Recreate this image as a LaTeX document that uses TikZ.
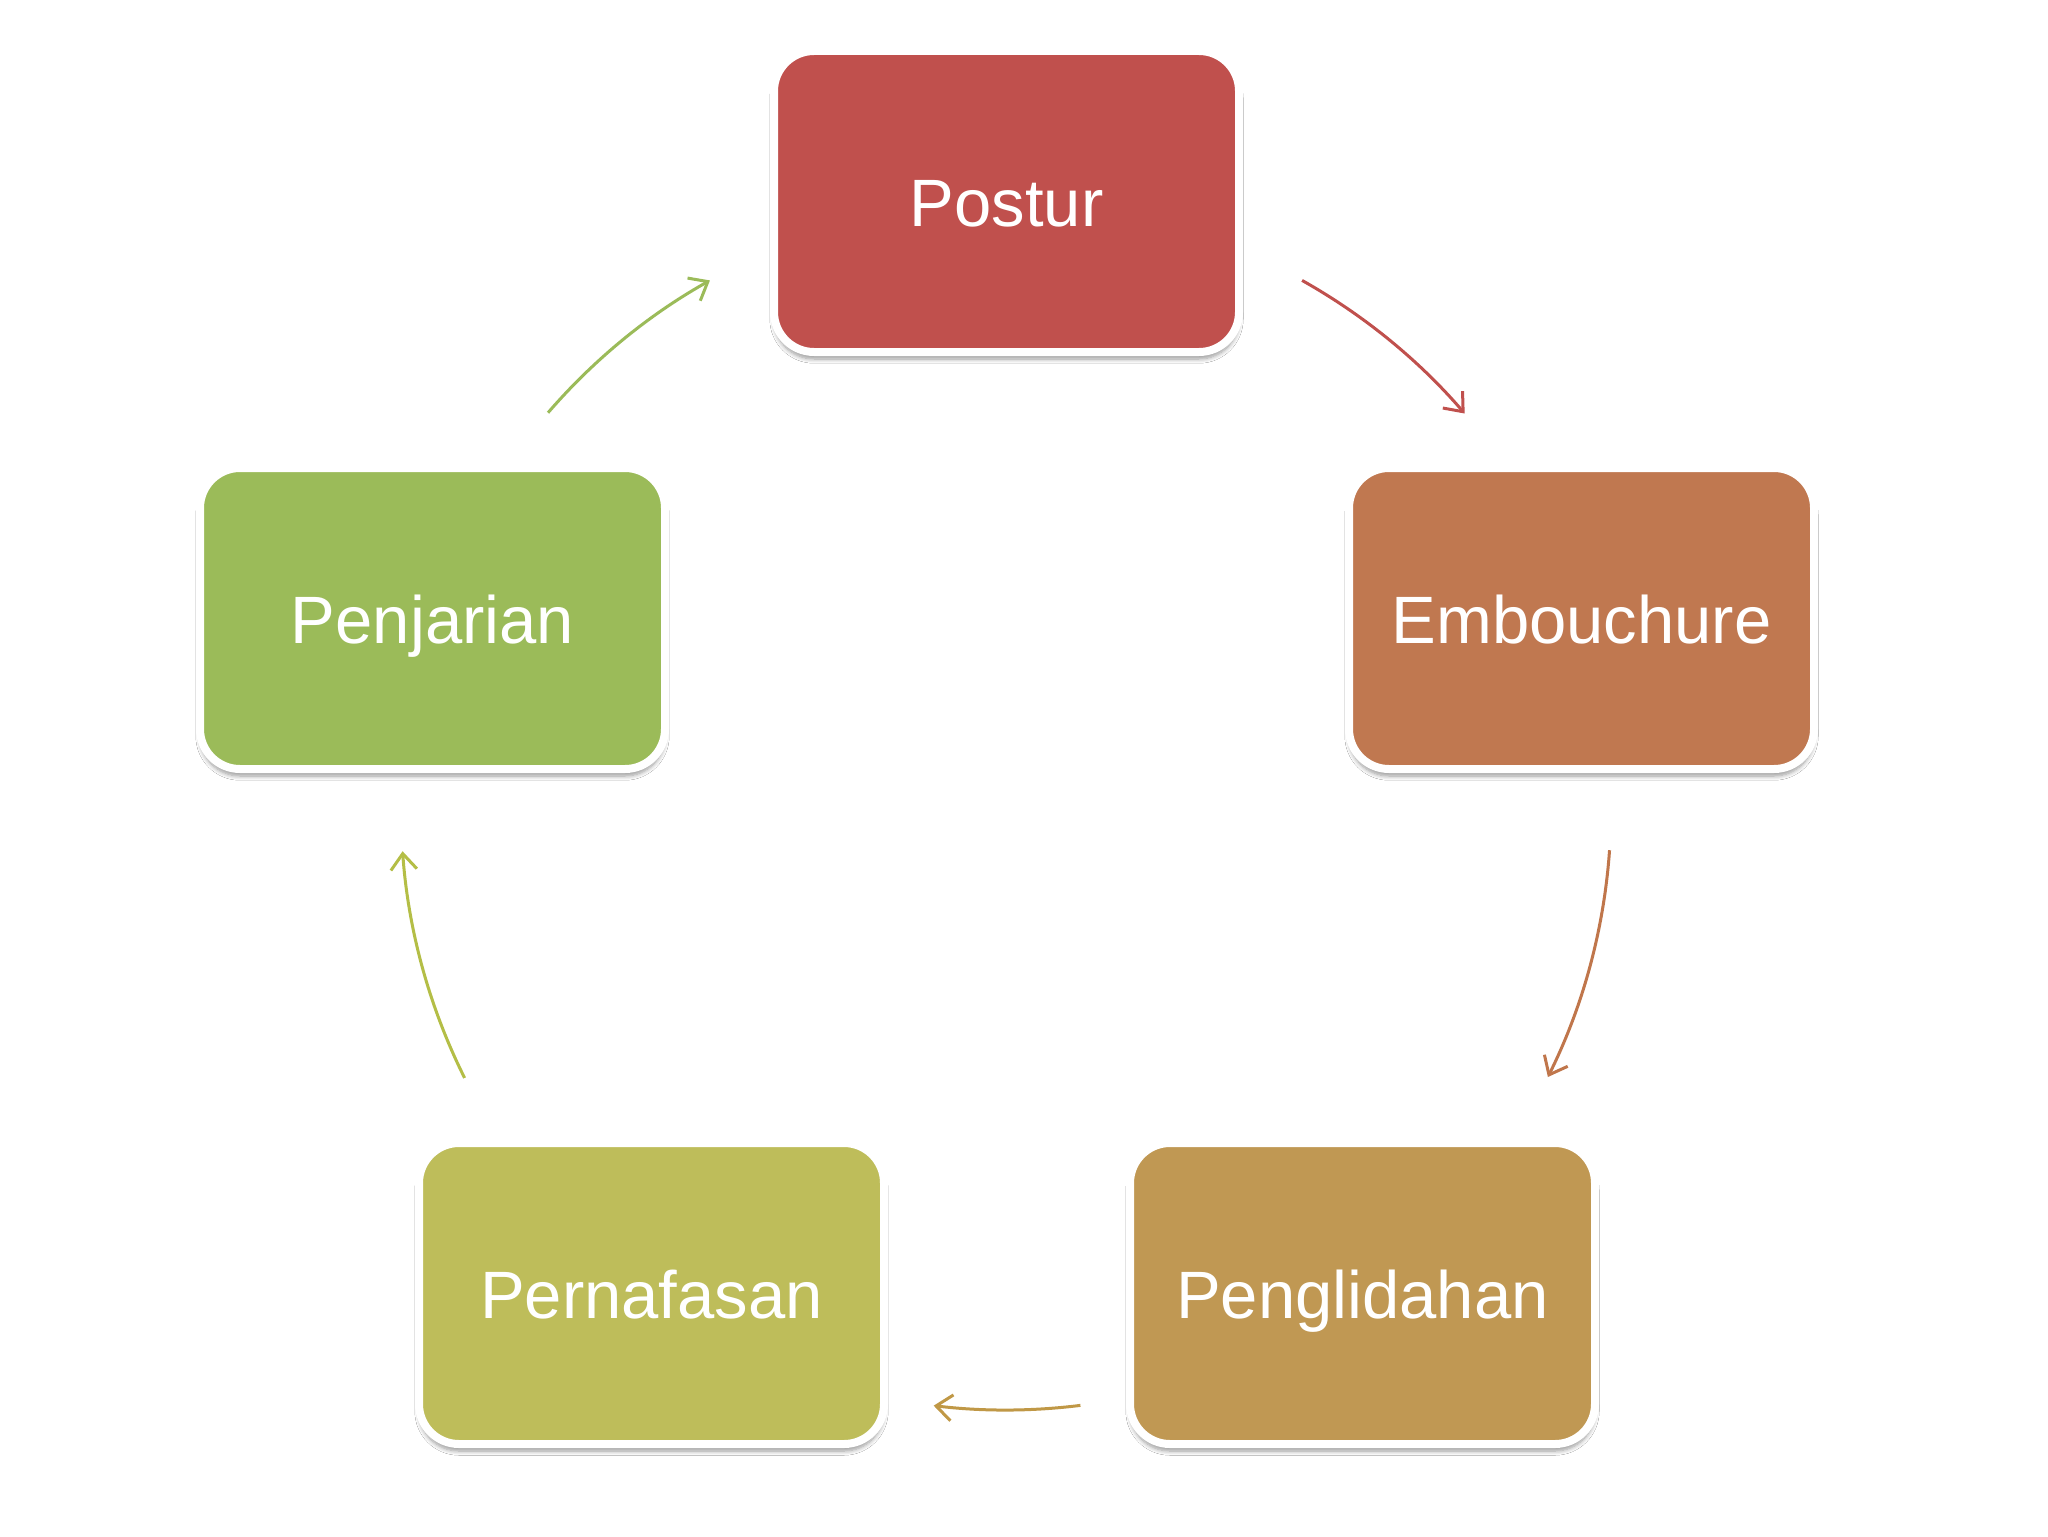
\documentclass[tikz,border=0pt]{standalone}
\usepackage{fontspec}
\setmainfont{Liberation Sans}
\usetikzlibrary{arrows.meta,shadows.blur}
\definecolor{cPostur}{RGB}{192,80,77}
\definecolor{cEmb}{RGB}{192,120,80}
\definecolor{cPengl}{RGB}{192,152,83}
\definecolor{cPern}{RGB}{190,189,90}
\definecolor{cPenj}{RGB}{155,187,89}
\definecolor{aPostur}{RGB}{192,80,77}
\definecolor{aEmb}{RGB}{192,118,75}
\definecolor{aPengl}{RGB}{192,152,70}
\definecolor{aPern}{RGB}{180,190,70}
\definecolor{aPenj}{RGB}{155,187,89}
\tikzset{
  cyclebox/.style={rectangle, rounded corners=20pt, draw=white, line width=4pt,
    minimum width=232.5pt, minimum height=150.5pt, text=white,
    font=\fontsize{33.5pt}{40pt}\selectfont, text height=24.5pt, text depth=0pt,
    blur shadow={shadow xshift=0pt, shadow yshift=-3.5pt, shadow blur steps=8, shadow opacity=40}},
  cyclearrow/.style={line width=1.5pt, -{Straight Barb[length=8pt,width=13pt,line width=1.5pt]}}
}
\begin{document}
\begin{tikzpicture}[x=0.5pt,y=-0.5pt]
\useasboundingbox (0,0) rectangle (2048,1536);
\fill[white] (0,0) rectangle (2048,1536);
\node[cyclebox, fill=cPostur] (postur) at (1006.5,201.5) {Postur};
\node[cyclebox, fill=cEmb] (emb) at (1581.5,618.5) {Embouchure};
\node[cyclebox, fill=cPengl] (pengl) at (1362.5,1293.5) {Penglidahan};
\node[cyclebox, fill=cPern] (pern) at (651.5,1293.5) {Pernafasan};
\node[cyclebox, fill=cPenj] (penj) at (432.5,618.5) {Penjarian};
\coordinate (ctr) at (1006,808);
\coordinate (a1) at ($(ctr)+(-60.7:605)$);
\coordinate (a2) at ($(ctr)+(4.0:605)$);
\coordinate (a3) at ($(ctr)+(82.9:602)$);
\coordinate (a4) at ($(ctr)+(153.5:605)$);
\coordinate (a5) at ($(ctr)+(220.8:605)$);
\draw[cyclearrow, aPostur] (a1) arc[start angle=-60.7, end angle=-40.7, radius=605];
\draw[cyclearrow, aEmb] (a2) arc[start angle=4.0, end angle=26.4, radius=605];
\draw[cyclearrow, aPengl] (a3) arc[start angle=82.9, end angle=96.9, radius=602];
\draw[cyclearrow, aPern] (a4) arc[start angle=153.5, end angle=175.9, radius=605];
\draw[cyclearrow, aPenj] (a5) arc[start angle=220.8, end angle=240.7, radius=605];
\end{tikzpicture}
\end{document}
